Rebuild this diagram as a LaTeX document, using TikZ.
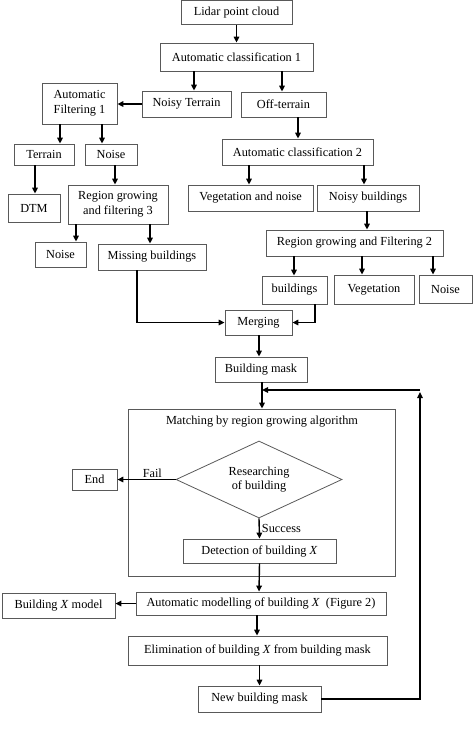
\documentclass[tikz,border=0pt]{standalone}
\usepackage{fontspec}
\setmainfont{Liberation Serif}
\usepackage{tikz}
\usetikzlibrary{shapes.geometric,arrows.meta}

\begin{document}
\begin{tikzpicture}[x=1pt,y=-1pt,
    font=\fontsize{12.3}{14.8}\selectfont,
    box/.style={draw=black!65, line width=0.8pt, inner sep=1pt, align=center},
    arr/.style={-{Triangle[length=6pt,width=5.5pt]}, line width=1.4pt}]
    \useasboundingbox (0,0) rectangle (474,729);

    % Classification of the point cloud
    \node[box, minimum width=111, minimum height=24] (lidar) at (236.5,12.5) {Lidar point cloud};
    \node[box, minimum width=153, minimum height=28] (ac1) at (236.5,57) {Automatic classification 1};
    \node[box, minimum width=89, minimum height=26] (noisyT) at (186.5,104) {Noisy Terrain};
    \node[box, minimum width=85, minimum height=25] (offT) at (283.5,104.5) {Off-terrain};
    \node[box, minimum width=75, minimum height=41] (af1) at (79.5,103.5) {Automatic\\Filtering 1};
    \node[box, minimum width=60, minimum height=21] (terrain) at (44,154.5) {Terrain};
    \node[box, minimum width=52, minimum height=21] (noise1) at (111,154.5) {Noise};
    \node[box, minimum width=151, minimum height=26] (ac2) at (297.5,152) {Automatic classification 2};
    \node[box, minimum width=52, minimum height=28] (dtm) at (34,208) {DTM};
    \node[box, minimum width=100, minimum height=39] (rg3) at (118,204.5) {Region growing\\and filtering 3};
    \node[box, minimum width=125, minimum height=26] (vegnoise) at (250.5,198) {Vegetation and noise};
    \node[box, minimum width=102, minimum height=26] (noisyB) at (368,198) {Noisy buildings};
    \node[box, minimum width=51, minimum height=25] (noise2) at (60.5,254.5) {Noise};
    \node[box, minimum width=108, minimum height=26] (missing) at (152,257) {Missing buildings};
    \node[box, minimum width=177, minimum height=26] (rg2) at (354.5,243) {Region growing and Filtering 2};
    \node[box, minimum width=65, minimum height=28] (bldg) at (294.5,290) {buildings};
    \node[box, minimum width=80, minimum height=29] (veg) at (374,289.5) {Vegetation};
    \node[box, minimum width=53, minimum height=28] (noise3) at (445.5,289) {Noise};
    \node[box, minimum width=67, minimum height=25] (merging) at (258.5,322.5) {Merging};
    \node[box, minimum width=92, minimum height=25] (mask) at (261,369.5) {Building mask};

    % Matching and modelling loop
    \node[box, minimum width=267, minimum height=167] (matching) at (261.5,492.5) {};
    \node (title) at (262,422) {Matching by region growing algorithm};
    \node[box, diamond, aspect=2.15, minimum width=166, minimum height=77, inner sep=0pt] (research) at (259,479.5) {Researching\\of building};
    \node[box, minimum width=45, minimum height=21] (end) at (94.5,479.5) {End};
    \node[box, minimum width=153, minimum height=24] (detect) at (259.5,551) {Detection of building \textit{X}};
    \node[box, minimum width=250, minimum height=23] (automod) at (261,603.5) {Automatic modelling of building \textit{X}~ (Figure 2)};
    \node[box, minimum width=113, minimum height=25] (model) at (58.5,605.5) {Building \textit{X} model};
    \node[box, minimum width=259, minimum height=29] (elim) at (257.5,650.5) {Elimination of building \textit{X} from building mask};
    \node[box, minimum width=123, minimum height=26] (newmask) at (259.5,699) {New building mask};
    \coordinate (loop) at (420,390);

    % Arrows, upper part
    \draw[arr] (lidar) -- (ac1);
    \draw[arr] (194,0 |- ac1.south) -- (194,0 |- noisyT.north);
    \draw[arr] (282,0 |- ac1.south) -- (282,0 |- offT.north);
    \draw[arr] (noisyT.west) -- (af1.east |- noisyT.west);
    \draw[arr] (60,0 |- af1.south) -- (60,0 |- terrain.north);
    \draw[arr] (102,0 |- af1.south) -- (102,0 |- noise1.north);
    \draw[arr] (298,0 |- offT.south) -- (298,0 |- ac2.north);
    \draw[arr] (35,0 |- terrain.south) -- (35,0 |- dtm.north);
    \draw[arr] (115,0 |- noise1.south) -- (115,0 |- rg3.north);
    \draw[arr] (249,0 |- ac2.south) -- (249,0 |- vegnoise.north);
    \draw[arr] (364,0 |- ac2.south) -- (364,0 |- noisyB.north);
    \draw[arr] (76,0 |- rg3.south) -- (76,0 |- noise2.north);
    \draw[arr] (150,0 |- rg3.south) -- (150,0 |- missing.north);
    \draw[arr] (367,0 |- noisyB.south) -- (367,0 |- rg2.north);
    \draw[arr] (294,0 |- rg2.south) -- (294,0 |- bldg.north);
    \draw[arr] (362,0 |- rg2.south) -- (362,0 |- veg.north);
    \draw[arr] (433,0 |- rg2.south) -- (433,0 |- noise3.north);
    \draw[arr] (137,0 |- missing.south) |- (merging.west);
    \draw[arr] (315,0 |- bldg.south) |- (merging.east);
    \draw[arr] (259,0 |- merging.south) -- (259,0 |- mask.north);
    \draw[arr] (262,0 |- mask.south) -- (262,0 |- matching.north);

    % Arrows, lower part
    \draw[arr] (research.west) -- node[above, pos=0.4, inner sep=1pt] {Fail} (end.east);
    \draw[arr] (research.south) -- node[right, inner sep=2pt] {Success} (detect.north);
    \draw[arr] (detect.south) -- (259,0 |- automod.north);
    \draw[arr] (automod.west) -- (model.east |- automod.west);
    \draw[arr] (257,0 |- automod.south) -- (257,0 |- elim.north);
    \draw[arr] (elim.south -| newmask.north) -- (newmask.north);
    \draw[arr] (newmask.east) -| ([yshift=-2pt]loop);
    \draw[arr] (loop) -- (262,0 |- loop);
\end{tikzpicture}
\end{document}
